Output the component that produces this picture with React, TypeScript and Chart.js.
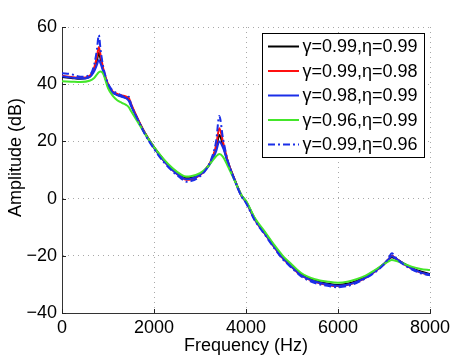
import { useEffect, useRef } from "react";
import { Chart, registerables } from "chart.js";

Chart.register(...registerables);

// Frequency (Hz) sample points
const freq = [
  0, 200, 400, 600, 700, 760, 800, 840, 900, 1000,
  1100, 1200, 1300, 1400, 1450, 1500, 1600, 1700, 1800, 2000,
  2200, 2400, 2600, 2700, 2800, 3000, 3150, 3250, 3350, 3420,
  3500, 3600, 3750, 3900, 4000, 4200, 4400, 4600, 4800, 5000,
  5200, 5500, 5800, 6000, 6200, 6400, 6600, 6800, 7000, 7100,
  7170, 7250, 7400, 7600, 7800, 8000,
];

// Amplitude (dB) per series
const g99e99 = [
  42.5, 42.2, 41.9, 42.6, 45.2, 48.4, 50.9, 48.8, 44.6, 39.7,
  37.2, 36.3, 35.8, 35.2, 34.6, 32.8, 29.3, 26.0, 23.0, 18.0,
  13.8, 10.3, 7.8, 7.1, 7.2, 8.4, 10.8, 13.3, 17.5, 22.2,
  18.6, 13.0, 6.8, 1.2, -1.0, -7.3, -11.8, -16.3, -20.5, -23.6,
  -26.5, -28.7, -29.8, -30.2, -29.8, -28.8, -27.3, -25.3, -22.8, -21.3,
  -20.5, -21.0, -22.4, -24.2, -25.5, -26.4,
];
const g99e98 = [
  43.0, 42.5, 42.2, 42.9, 45.8, 49.7, 53.0, 50.0, 45.2, 40.0,
  37.5, 36.6, 36.1, 35.6, 35.2, 33.2, 29.5, 26.1, 23.0, 17.8,
  13.5, 10.0, 7.4, 6.6, 6.7, 8.2, 10.7, 13.5, 18.5, 24.6,
  19.8, 13.2, 6.7, 1.0, -1.2, -7.6, -12.1, -16.7, -20.9, -24.0,
  -26.9, -29.1, -30.3, -30.6, -30.2, -29.2, -27.7, -25.6, -23.0, -21.2,
  -20.0, -20.8, -22.6, -24.5, -25.9, -26.7,
];
const g98e99 = [
  42.8, 42.3, 42.0, 42.5, 44.5, 46.8, 48.5, 47.2, 44.2, 39.6,
  37.2, 36.2, 35.6, 35.0, 34.2, 32.4, 29.0, 25.8, 22.8, 17.7,
  13.5, 10.0, 7.5, 6.8, 6.9, 8.4, 10.6, 13.0, 16.5, 20.0,
  17.8, 12.8, 6.6, 1.0, -1.2, -7.5, -12.0, -16.5, -20.7, -23.9,
  -26.8, -29.0, -30.1, -30.5, -30.1, -29.1, -27.6, -25.5, -22.9, -21.2,
  -20.2, -20.9, -22.5, -24.4, -25.8, -26.6,
];
const g96e99 = [
  41.0, 40.9, 40.8, 41.2, 42.2, 43.4, 44.2, 44.4, 43.5, 38.6,
  36.0, 34.4, 33.5, 32.7, 32.0, 30.6, 28.0, 25.4, 22.8, 18.0,
  14.0, 10.7, 8.3, 7.7, 7.8, 8.9, 10.8, 12.8, 14.8, 15.6,
  14.6, 11.5, 6.4, 1.3, -0.8, -7.0, -11.4, -15.9, -20.0, -23.1,
  -26.0, -28.2, -29.1, -29.4, -29.1, -28.2, -26.9, -25.0, -22.9, -21.9,
  -21.5, -21.7, -22.6, -23.8, -24.6, -25.0,
];
const g99e96 = [
  43.8, 43.5, 42.6, 43.2, 46.8, 52.2, 57.2, 51.8, 45.8, 40.3,
  37.8, 36.8, 36.0, 35.2, 35.6, 33.0, 29.2, 25.8, 22.6, 17.4,
  13.0, 9.6, 6.9, 5.9, 6.1, 7.8, 10.6, 14.0, 20.0, 28.9,
  21.0, 13.5, 6.5, 0.8, -1.5, -7.9, -12.4, -17.0, -21.2, -24.3,
  -27.2, -29.5, -30.6, -31.0, -30.6, -29.5, -27.9, -25.8, -23.0, -20.8,
  -19.1, -20.5, -22.8, -24.7, -26.1, -26.8,
];

const seriesLabels = [
  "γ=0.99,η=0.99",
  "γ=0.99,η=0.98",
  "γ=0.98,η=0.99",
  "γ=0.96,η=0.99",
  "γ=0.99,η=0.96",
];
const seriesValues = [g99e99, g99e98, g98e99, g96e99, g99e96];
const seriesColors = ["#000000", "#ff1010", "#1a2ee8", "#44e62a", "#1a2ee8"];
const seriesDashes: number[][] = [[], [], [], [], [7, 3, 2, 3]];
const seriesOrder = [4, 3, 2, 1, 0];

const xMin = 0, xMax = 8000, xStep = 2000;
const yMin = -40, yMax = 60, yStep = 20;
const xTitle = "Frequency (Hz)";
const yTitle = "Amplitude (dB)";

const FONT = "'Liberation Sans', Arial, Helvetica, sans-serif";

export default function App() {
  const ref = useRef<HTMLCanvasElement>(null);

  useEffect(() => {
    document.body.style.margin = "0";
    const canvas = ref.current!;

    const datasets = seriesLabels.map((label, i) => ({
      label,
      data: freq.map((x, j) => ({ x, y: seriesValues[i][j] })),
      borderColor: seriesColors[i],
      backgroundColor: seriesColors[i],
      borderWidth: 2,
      borderDash: seriesDashes[i],
      pointRadius: 0,
      cubicInterpolationMode: "monotone" as const,
      fill: false,
      order: seriesOrder[i],
    }));

    const decor = {
      id: "decor",
      afterDraw(chart: any) {
        const c: CanvasRenderingContext2D = chart.ctx;
        const { left, right, bottom } = chart.chartArea;
        const xs = chart.scales.x;
        const ys = chart.scales.y;
        c.save();
        // inward tick marks
        c.strokeStyle = "#222";
        c.lineWidth = 1;
        c.setLineDash([]);
        xs.ticks.forEach((t: any) => {
          const px = Math.round(xs.getPixelForValue(t.value)) + 0.5;
          c.beginPath();
          c.moveTo(px, bottom);
          c.lineTo(px, bottom - 4);
          c.stroke();
        });
        ys.ticks.forEach((t: any) => {
          const py = Math.round(ys.getPixelForValue(t.value)) + 0.5;
          c.beginPath();
          c.moveTo(left, py);
          c.lineTo(left + 4, py);
          c.stroke();
        });

        // axis titles
        c.fillStyle = "#000";
        c.font = `18px ${FONT}`;
        c.textAlign = "center";
        c.textBaseline = "alphabetic";
        c.fillText(xTitle, (left + right) / 2, 351);
        c.save();
        c.translate(20.5, 157.5);
        c.rotate(-Math.PI / 2);
        c.fillText(yTitle, 0, 0);
        c.restore();

        // legend
        const bx = 262.5, by = 33.5, bw = 162, bh = 124;
        c.fillStyle = "#fff";
        c.fillRect(bx, by, bw, bh);
        c.strokeStyle = "#000";
        c.lineWidth = 1;
        c.strokeRect(bx, by, bw, bh);
        c.textAlign = "left";
        c.textBaseline = "middle";
        seriesLabels.forEach((lab, i) => {
          const yy = 46.5 + i * 24.5;
          c.strokeStyle = seriesColors[i];
          c.lineWidth = 2;
          c.setLineDash(seriesDashes[i]);
          c.beginPath();
          c.moveTo(268, yy);
          c.lineTo(299, yy);
          c.stroke();
          c.setLineDash([]);
          c.fillStyle = "#000";
          c.fillText(lab, 302.5, yy + 1);
        });
        c.restore();
      },
    };

    const chart = new Chart(canvas, {
      type: "line",
      data: { datasets },
      options: {
        animation: false,
        responsive: false,
        devicePixelRatio: 1,
        layout: { padding: { top: 27, right: 44, left: 0, bottom: 0 } },
        plugins: { legend: { display: false }, tooltip: { enabled: false } },
        scales: {
          x: {
            type: "linear",
            min: xMin,
            max: xMax,
            afterFit(scale: any) {
              scale.height = 43;
            },
            ticks: {
              stepSize: xStep,
              color: "#000",
              font: { family: FONT, size: 18 },
              padding: 4,
              maxRotation: 0,
              callback: (v: any) => String(v),
            },
            grid: { color: "#a8a8a8", lineWidth: 1, drawTicks: false },
            border: { display: true, color: "#333", width: 1, dash: [1, 4] },
          },
          y: {
            type: "linear",
            min: yMin,
            max: yMax,
            afterFit(scale: any) {
              scale.width = 62;
            },
            ticks: {
              stepSize: yStep,
              color: "#000",
              font: { family: FONT, size: 18 },
              padding: 5,
              callback: (v: any) => String(v).replace("-", "\u2212"),
            },
            grid: { color: "#a8a8a8", lineWidth: 1, drawTicks: false },
            border: { display: true, color: "#333", width: 1, dash: [1, 4] },
          },
        },
      },
      plugins: [decor],
    });

    return () => chart.destroy();
  }, []);

  return <canvas ref={ref} width={474} height={356} style={{ display: "block" }} />;
}
